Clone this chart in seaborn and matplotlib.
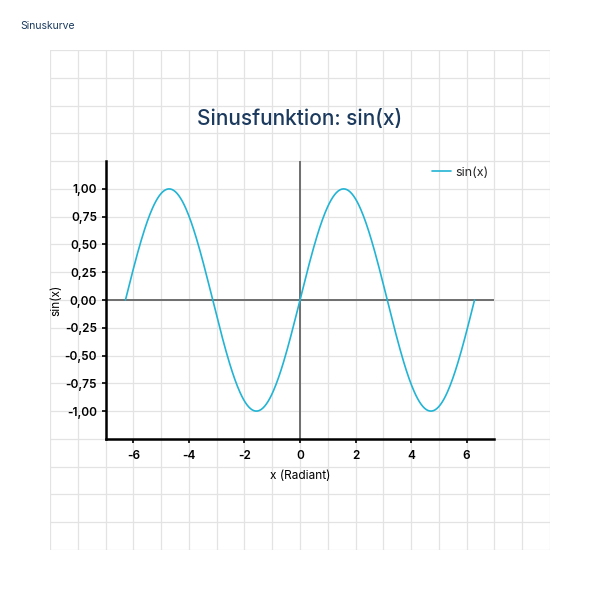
import matplotlib
matplotlib.use("Agg")
import matplotlib.pyplot as plt
import seaborn as sns
import numpy as np
import pandas as pd

# DATA
x_start = -2 * np.pi
x_end = 2 * np.pi
n_points = 400
x_values = np.linspace(x_start, x_end, n_points)
y_values = np.sin(x_values)

x_ticks = [-6, -4, -2, 0, 2, 4, 6]
x_tick_labels = ["-6", "-4", "-2", "0", "2", "4", "6"]
y_ticks = [-1.0, -0.75, -0.5, -0.25, 0.0, 0.25, 0.5, 0.75, 1.0]
y_tick_labels = ["-1,00", "-0,75", "-0,50", "-0,25", "0,00", "0,25", "0,50", "0,75", "1,00"]
series_name = "sin(x)"

df = pd.DataFrame({"x": x_values, "y": y_values, "serie": series_name})

# STYLE
sns.set_theme(style="white")
plt.rcParams["font.family"] = ["Inter", "DejaVu Sans"]

navy = "#1b3a5e"
curve_color = "#22b4d4"
grid_color = "#e3e3e3"

fig = plt.figure(figsize=(6, 6), dpi=100)
fig.patch.set_facecolor("white")

# background grid paper (18 x 18 cells, 50..550 px)
cell = 500 / 18 / 600
bg = fig.add_axes([50 / 600, 50 / 600, 500 / 600, 500 / 600], zorder=0)
bg.set_xlim(0, 18)
bg.set_ylim(0, 18)
bg.set_xticks(range(19))
bg.set_yticks(range(19))
bg.grid(True, color=grid_color, lw=0.9)
bg.tick_params(length=0, labelbottom=False, labelleft=False)
for s in bg.spines.values():
    s.set_visible(False)
bg.set_facecolor("white")

# main axes: columns 2..16, rows 4..14 from top
left = 50 / 600 + 2 * cell
bottom = 50 / 600 + 4 * cell
ax = fig.add_axes([left, bottom, 14 * cell, 10 * cell], zorder=1)
ax.set_facecolor("none")

ax.axhline(0, color="#6e6e6e", lw=1.4, zorder=1)
ax.axvline(0, color="#6e6e6e", lw=1.4, zorder=1)
sns.lineplot(data=df, x="x", y="y", hue="serie", palette=[curve_color], lw=1.2, ax=ax, zorder=2)

ax.set_xlim(-7, 7)
ax.set_ylim(-1.25, 1.25)
ax.set_xticks(x_ticks)
ax.set_xticklabels(x_tick_labels)
ax.set_yticks(y_ticks)
ax.set_yticklabels(y_tick_labels)
for lab in ax.get_xticklabels() + ax.get_yticklabels():
    lab.set_fontweight("semibold")
    lab.set_fontsize(8.5)
    lab.set_color("black")
ax.tick_params(axis="both", direction="out", length=3, width=1.2, color="black", pad=3,
               bottom=True, left=True)
ax.tick_params(axis="x", pad=5)

for side in ["top", "right"]:
    ax.spines[side].set_visible(False)
for side in ["left", "bottom"]:
    ax.spines[side].set_color("black")
    ax.spines[side].set_linewidth(1.8)

ax.set_xlabel("x (Radiant)", fontsize=8.5, color="black", labelpad=6)
ax.set_ylabel("sin(x)", fontsize=8.5, color="black", labelpad=2)

leg = ax.legend(loc="upper right", frameon=False, fontsize=9, handlelength=1.5,
                handletextpad=0.4, bbox_to_anchor=(1.015, 1.02))

fig.text(300 / 600, 1 - 119 / 600, "Sinusfunktion: sin(x)", ha="center", va="center",
         fontsize=15, color=navy, fontweight="medium")
fig.text(20 / 600, 1 - 26 / 600, "Sinuskurve", ha="left", va="center",
         fontsize=7.5, color=navy)

plt.savefig("out.png", dpi=100)
